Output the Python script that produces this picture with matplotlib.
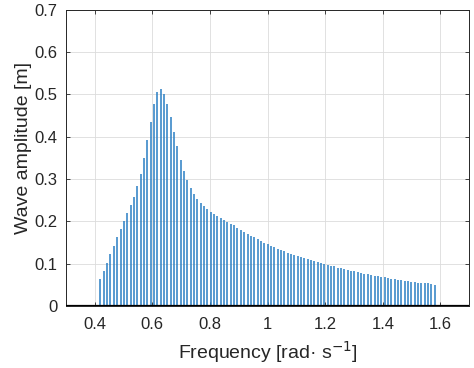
import numpy as np
import matplotlib
matplotlib.use("Agg")
import matplotlib.pyplot as plt

# ---- data ----
freq_start = 0.42
freq_end = 1.58
n_components = 101
amplitude = [
    0.063, 0.082, 0.101, 0.122, 0.142, 0.162, 0.182, 0.200, 0.219, 0.2385,
    0.258, 0.283, 0.311, 0.349, 0.392, 0.436, 0.477, 0.505, 0.512, 0.502,
    0.477, 0.447, 0.411, 0.377, 0.346, 0.319, 0.297, 0.278, 0.265, 0.253,
    0.244, 0.235, 0.228, 0.223, 0.218, 0.213, 0.208, 0.203, 0.198, 0.194,
    0.190, 0.185, 0.180, 0.174, 0.170, 0.166, 0.162, 0.158, 0.1535, 0.1496,
    0.1457, 0.1417, 0.1386, 0.1354, 0.1323, 0.1291, 0.126, 0.1236, 0.1205, 0.118,
    0.115, 0.1126, 0.1102, 0.1079, 0.1055, 0.103, 0.1008, 0.0992, 0.0969, 0.0945,
    0.093, 0.0906, 0.089, 0.0866, 0.085, 0.0835, 0.0819, 0.0795, 0.078, 0.0764,
    0.0748, 0.0732, 0.0717, 0.0701, 0.0685, 0.0677, 0.0661, 0.0646, 0.063, 0.0622,
    0.0606, 0.0598, 0.0583, 0.0575, 0.0567, 0.0551, 0.0543, 0.0535, 0.0528, 0.052,
    0.0504,
]
frequency = np.linspace(freq_start, freq_end, n_components)
xticks = [0.4, 0.6, 0.8, 1.0, 1.2, 1.4, 1.6]
xtick_labels = ["0.4", "0.6", "0.8", "1", "1.2", "1.4", "1.6"]
yticks = [0, 0.1, 0.2, 0.3, 0.4, 0.5, 0.6, 0.7]
ytick_labels = ["0", "0.1", "0.2", "0.3", "0.4", "0.5", "0.6", "0.7"]

plt.rcParams['font.family'] = ['Liberation Sans', 'DejaVu Sans']

fig = plt.figure(figsize=(4.74, 3.68), dpi=100)
ax = fig.add_axes([0.139, 0.169, 0.851, 0.804])

ax.vlines(frequency, 0, amplitude, colors='#2a7fc4', linewidth=1.1, zorder=3)
ax.axhline(0, color='black', linewidth=1.6, zorder=4)

ax.set_xlim(0.3, 1.7)
ax.set_ylim(0, 0.7)
ax.set_xticks(xticks)
ax.set_xticklabels(xtick_labels)
ax.set_yticks(yticks)
ax.set_yticklabels(ytick_labels)
ax.tick_params(direction='in', length=3, width=0.6, labelsize=12,
               top=True, right=True, colors='#262626')
ax.tick_params(axis='x', pad=8)
ax.tick_params(axis='y', pad=6)
ax.grid(True, color='#dcdcdc', linewidth=0.6, zorder=0)
ax.set_axisbelow(True)
for s in ax.spines.values():
    s.set_linewidth(0.7)
    s.set_color('#262626')

ax.set_xlabel("Frequency [rad· s$^{-1}$]", fontsize=14, color='#262626', labelpad=5)
ax.set_ylabel("Wave amplitude [m]", fontsize=14, color='#262626', labelpad=6)
ax.yaxis.set_label_coords(-0.085, 0.535)

fig.savefig("out.png", dpi=100)
